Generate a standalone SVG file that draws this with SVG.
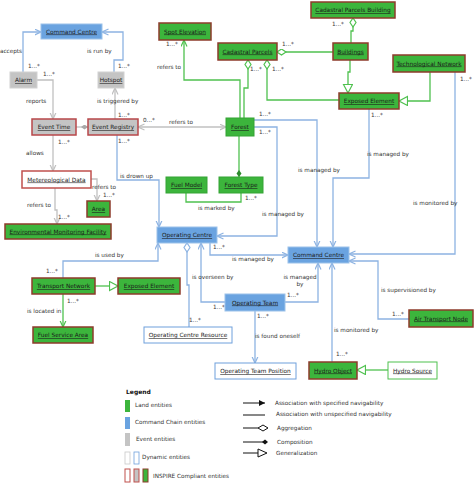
<svg xmlns="http://www.w3.org/2000/svg" width="474" height="484" viewBox="0 0 474 484">
<defs>
<style>
.t{font-family:"DejaVu Sans",sans-serif;font-size:5.8px;fill:#1a1a1a;text-anchor:middle;text-decoration:underline}
.l{font-family:"DejaVu Sans",sans-serif;font-size:5.7px;fill:#333}
.lg{font-family:"DejaVu Sans",sans-serif;font-size:5.7px;fill:#333}
.lgh{font-family:"DejaVu Sans",sans-serif;font-size:6px;font-weight:bold;fill:#111}
.land{fill:#3cb53c;stroke:#34a334;stroke-width:1}
.landI{fill:#3cb53c;stroke:#8d3b2b;stroke-width:1.5}
.cmd{fill:#6aa3e0;stroke:#9cc2ea;stroke-width:1}
.evt{fill:#c4c4c4;stroke:#d2d2d2;stroke-width:1}
.evtI{fill:#c4c4c4;stroke:#b8474a;stroke-width:1.5}
.dynI{fill:#fff;stroke:#c0504d;stroke-width:1.5}
.dynB{fill:#fff;stroke:#6fa0dc;stroke-width:1}
.dynG{fill:#fff;stroke:#4fc14f;stroke-width:1}
.b{fill:none;stroke:#8db3e2;stroke-width:1.3}
.g{fill:none;stroke:#c0c0c0;stroke-width:1.3}
.gr{fill:none;stroke:#4fc14f;stroke-width:1.3}
.k{fill:none;stroke:#111;stroke-width:1}
</style>
<marker id="ab" markerUnits="userSpaceOnUse" markerWidth="8" markerHeight="8" refX="6.5" refY="3.5" orient="auto"><path d="M0,0.5 L6.5,3.5 L0,6.5" fill="none" stroke="#8db3e2" stroke-width="1.2"/></marker>
<marker id="ag" markerUnits="userSpaceOnUse" markerWidth="8" markerHeight="8" refX="6.5" refY="3.5" orient="auto"><path d="M0,0.5 L6.5,3.5 L0,6.5" fill="none" stroke="#c0c0c0" stroke-width="1.2"/></marker>
<marker id="agS" markerUnits="userSpaceOnUse" markerWidth="8" markerHeight="8" refX="6.5" refY="3.5" orient="auto-start-reverse"><path d="M0,0.5 L6.5,3.5 L0,6.5" fill="none" stroke="#c0c0c0" stroke-width="1.2"/></marker>
<marker id="agr" markerUnits="userSpaceOnUse" markerWidth="8" markerHeight="8" refX="6.5" refY="3.5" orient="auto"><path d="M0,0.5 L6.5,3.5 L0,6.5" fill="none" stroke="#4fc14f" stroke-width="1.2"/></marker>
<marker id="tri" markerUnits="userSpaceOnUse" markerWidth="11" markerHeight="11" refX="9" refY="5" orient="auto"><path d="M0.5,0.5 L9,5 L0.5,9.5 Z" fill="#fff" stroke="#4fc14f" stroke-width="1.2"/></marker>
<marker id="dia" markerUnits="userSpaceOnUse" markerWidth="11" markerHeight="8" refX="0.5" refY="3.5" orient="auto"><path d="M0.5,3.5 L5,0.5 L9.5,3.5 L5,6.5 Z" fill="#fff" stroke="#4fc14f" stroke-width="1.2"/></marker>
<marker id="diaB" markerUnits="userSpaceOnUse" markerWidth="11" markerHeight="8" refX="0.5" refY="3.5" orient="auto"><path d="M0.5,3.5 L5,0.5 L9.5,3.5 L5,6.5 Z" fill="#fff" stroke="#8db3e2" stroke-width="1.2"/></marker>
<marker id="comp" markerUnits="userSpaceOnUse" markerWidth="9" markerHeight="7" refX="7" refY="2.5" orient="auto"><path d="M0,2.5 L3.5,0 L7,2.5 L3.5,5 Z" fill="#2e8b2e"/></marker>
<marker id="compG" markerUnits="userSpaceOnUse" markerWidth="9" markerHeight="7" refX="7" refY="2.5" orient="auto"><path d="M0,2.5 L3.5,0 L7,2.5 L3.5,5 Z" fill="#a8a8a8"/></marker>
<marker id="kArr" markerUnits="userSpaceOnUse" markerWidth="8" markerHeight="8" refX="6" refY="3" orient="auto"><path d="M0,0 L6,3 L0,6 Z" fill="#111"/></marker>
</defs>
<rect width="474" height="484" fill="#fff"/>

<g id="connectors">
<path class="b" d="M23,72 V32 H41" marker-end="url(#ab)"/>
<path class="b" d="M114,72 V60 H123 V32 H102" marker-end="url(#ab)"/>
<path class="b" d="M117,135 V180 H159 V227" marker-end="url(#ab)"/>
<path class="b" d="M254,120 H317 V247" marker-end="url(#ab)"/>
<path class="b" d="M254,127 H277 V236 H217" marker-end="url(#ab)"/>
<path class="b" d="M369,109 V178 H333 V247" marker-end="url(#ab)"/>
<path class="b" d="M455,72 V254 H349" marker-end="url(#ab)"/>
<path class="b" d="M63,278 V261 H158 V243" marker-end="url(#ab)"/>
<path class="b" d="M210,243 V255 H288" marker-end="url(#ab)"/>
<path class="b" d="M225,302 H201 V243" marker-end="url(#ab)"/>
<path class="b" d="M285,302 H318 V263" marker-end="url(#ab)"/>
<path class="b" d="M255,311 V363" marker-end="url(#ab)"/>
<path class="b" d="M409,319 H378 V261 H349" marker-end="url(#ab)"/>
<path class="b" d="M332,362 V263" marker-end="url(#ab)"/>
<path class="b" d="M187,243 V285 H189 V327" marker-start="url(#diaB)"/>
<path class="g" d="M37,80 H53 V119" marker-end="url(#ag)"/>
<path class="g" d="M115,119 V88" marker-end="url(#ag)"/>
<path class="g" d="M76,127 H88" marker-end="url(#compG)"/>
<path class="g" d="M53,135 V171" marker-end="url(#ag)"/>
<path class="g" d="M91,179 H97 V201" marker-end="url(#ag)"/>
<path class="g" d="M55,188 V210 H57 V224" marker-end="url(#ag)"/>
<path class="g" d="M138,127 H226" marker-start="url(#agS)" marker-end="url(#ag)"/>
<path class="gr" d="M240,118 V80 H184 V40" marker-end="url(#agr)"/>
<path class="gr" d="M248,60 V88 H244 V118" marker-start="url(#dia)"/>
<path class="gr" d="M267,60 V100 H339" marker-start="url(#dia)"/>
<path class="gr" d="M277,52 H333" marker-start="url(#dia)"/>
<path class="gr" d="M353,18 V31 H351 V43" marker-start="url(#dia)"/>
<path class="gr" d="M350,60 V72 H348 V93" marker-end="url(#tri)"/>
<path class="gr" d="M430,72 V101 H399" marker-end="url(#tri)"/>
<path class="gr" d="M239,136 V177" marker-end="url(#comp)"/>
<path class="gr" d="M186,193 V202 H241 V193"/>
<path class="gr" d="M95,286 H118" marker-end="url(#tri)"/>
<path class="gr" d="M63,294 V327" marker-end="url(#agr)"/>
<path class="gr" d="M388,370 H357" marker-end="url(#tri)"/>
</g>

<g id="connector-labels">
<text class="l" x="0" y="53">accepts</text>
<text class="l" x="28" y="68">1...*</text>
<text class="l" x="87" y="53">is run by</text>
<text class="l" x="118" y="68">1...*</text>
<text class="l" x="43" y="76">1...*</text>
<text class="l" x="26" y="103">reports</text>
<text class="l" x="97" y="103">is triggered by</text>
<text class="l" x="118" y="117">1...*</text>
<text class="l" x="143" y="122">0...*</text>
<text class="l" x="169" y="124">refers to</text>
<text class="l" x="58" y="144">1...*</text>
<text class="l" x="118" y="143">1...*</text>
<text class="l" x="26" y="155">allows</text>
<text class="l" x="120" y="178">is drown up</text>
<text class="l" x="92" y="189">refers to</text>
<text class="l" x="103" y="197">1...*</text>
<text class="l" x="27" y="207">refers to</text>
<text class="l" x="58" y="219">1...*</text>
<text class="l" x="157" y="69">refers to</text>
<text class="l" x="166" y="46">1...*</text>
<text class="l" x="250" y="71">1...*</text>
<text class="l" x="272" y="71">1...*</text>
<text class="l" x="282" y="46">1...*</text>
<text class="l" x="332" y="26">1...*</text>
<text class="l" x="460" y="81">1...*</text>
<text class="l" x="371" y="117">1...*</text>
<text class="l" x="367" y="156">is managed by</text>
<text class="l" x="259" y="116">1...*</text>
<text class="l" x="259" y="134">1...*</text>
<text class="l" x="298" y="172">is managed by</text>
<text class="l" x="262" y="216">is managed by</text>
<text class="l" x="198" y="210">is marked by</text>
<text class="l" x="245" y="200">1...*</text>
<text class="l" x="413" y="205">is monitored by</text>
<text class="l" x="95" y="257">is used by</text>
<text class="l" x="46" y="273">1...*</text>
<text class="l" x="67" y="303">1...*</text>
<text class="l" x="27" y="313">is located in</text>
<text class="l" x="213" y="249">1...*</text>
<text class="l" x="232" y="261">is managed by</text>
<text class="l" x="192" y="279">is overseen by</text>
<text class="l" x="300" y="279" text-anchor="middle">is managed</text>
<text class="l" x="300" y="286" text-anchor="middle">by</text>
<text class="l" x="287" y="297">1...*</text>
<text class="l" x="213" y="309">1...*</text>
<text class="l" x="189" y="322">1...*</text>
<text class="l" x="257" y="318">1...*</text>
<text class="l" x="255" y="338">is found oneself</text>
<text class="l" x="381" y="292">is supervisioned by</text>
<text class="l" x="392" y="316">1...*</text>
<text class="l" x="334" y="332">is monitored by</text>
<text class="l" x="336" y="356">1...*</text>
</g>

<g id="command-centre-top"><rect class="cmd" x="41" y="24" width="61" height="15"/><text class="t" x="71.5" y="33.5">Command Centre</text></g>
<g id="alarm"><rect class="evt" x="10" y="72" width="27" height="16"/><text class="t" x="23.5" y="82">Alarm</text></g>
<g id="hotspot"><rect class="evt" x="98" y="72" width="26" height="16"/><text class="t" x="111" y="82">Hotspot</text></g>
<g id="event-time"><rect class="evtI" x="32" y="119" width="44" height="16"/><text class="t" x="54" y="129">Event Time</text></g>
<g id="event-registry"><rect class="evtI" x="88" y="119" width="50" height="16"/><text class="t" x="113" y="129">Event Registry</text></g>
<g id="metereological-data"><rect class="dynI" x="22" y="171" width="69" height="17"/><text class="t" x="56.5" y="181.5">Metereological Data</text></g>
<g id="area"><rect class="landI" x="87" y="201" width="23" height="16"/><text class="t" x="98.5" y="211">Area</text></g>
<g id="environmental-monitoring-facility"><rect class="landI" x="5" y="224" width="106" height="15"/><text class="t" x="58" y="233.5">Environmental Monitoring Facility</text></g>
<g id="spot-elevation"><rect class="landI" x="159" y="23" width="52" height="17"/><text class="t" x="185" y="33.5">Spot Elevation</text></g>
<g id="cadastral-parcels"><rect class="landI" x="218" y="43" width="59" height="17"/><text class="t" x="247.5" y="53.5">Cadastral Parcels</text></g>
<g id="cadastral-parcels-building"><rect class="landI" x="311" y="2" width="84" height="16"/><text class="t" x="353" y="12">Cadastral Parcels Building</text></g>
<g id="buildings"><rect class="landI" x="333" y="43" width="35" height="17"/><text class="t" x="350.5" y="53.5">Buildings</text></g>
<g id="technological-network"><rect class="landI" x="393" y="55" width="72" height="17"/><text class="t" x="429" y="65.5">Technological Network</text></g>
<g id="exposed-element-top"><rect class="landI" x="339" y="93" width="60" height="16"/><text class="t" x="369" y="103">Exposed Element</text></g>
<g id="forest"><rect class="land" x="226" y="118" width="28" height="18"/><text class="t" x="240" y="129">Forest</text></g>
<g id="fuel-model"><rect class="land" x="166" y="177" width="41" height="16"/><text class="t" x="186.5" y="187">Fuel Model</text></g>
<g id="forest-type"><rect class="land" x="219" y="177" width="44" height="16"/><text class="t" x="241" y="187">Forest Type</text></g>
<g id="operating-centre"><rect class="cmd" x="157" y="227" width="60" height="16"/><text class="t" x="187" y="237">Operating Centre</text></g>
<g id="command-centre"><rect class="cmd" x="288" y="247" width="61" height="16"/><text class="t" x="318.5" y="257">Command Centre</text></g>
<g id="operating-team"><rect class="cmd" x="225" y="294" width="60" height="17"/><text class="t" x="255" y="304.5">Operating Team</text></g>
<g id="transport-network"><rect class="landI" x="32" y="278" width="63" height="16"/><text class="t" x="63.5" y="288">Transport Network</text></g>
<g id="exposed-element"><rect class="landI" x="118" y="278" width="62" height="16"/><text class="t" x="149" y="288">Exposed Element</text></g>
<g id="fuel-service-area"><rect class="landI" x="33" y="327" width="60" height="16"/><text class="t" x="63" y="337">Fuel Service Area</text></g>
<g id="operating-centre-resource"><rect class="dynB" x="144" y="327" width="88" height="16"/><text class="t" x="188" y="337">Operating Centre Resource</text></g>
<g id="operating-team-position"><rect class="dynB" x="215" y="363" width="81" height="16"/><text class="t" x="255.5" y="373">Operating Team Position</text></g>
<g id="air-transport-node"><rect class="landI" x="409" y="310" width="64" height="17"/><text class="t" x="441" y="320.5">Air Transport Node</text></g>
<g id="hydro-object"><rect class="landI" x="309" y="362" width="48" height="17"/><text class="t" x="333" y="372.5">Hydro Object</text></g>
<g id="hydro-source"><rect class="dynG" x="388" y="362" width="49" height="17"/><text class="t" x="412.5" y="372.5">Hydro Source</text></g>

<g id="legend">
<text class="lgh" x="126" y="394">Legend</text>
<rect x="125" y="400" width="5" height="12" fill="#3cb53c"/>
<text class="lg" x="135" y="407">Land entities</text>
<rect x="125" y="417" width="5" height="12" fill="#6aa3e0"/>
<text class="lg" x="135" y="424">Command Chain entities</text>
<rect x="125" y="433" width="5" height="13" fill="#c4c4c4"/>
<text class="lg" x="136" y="441">Event entities</text>
<rect x="125" y="452" width="5" height="12" fill="#fff" stroke="#c8c8c8" stroke-width="0.8"/>
<rect x="134" y="452" width="5" height="12" fill="#fff" stroke="#6fa0dc" stroke-width="0.8"/>
<text class="lg" x="142" y="459">Dynamic entities</text>
<rect x="125" y="469" width="5" height="13" fill="#fff" stroke="#c0504d" stroke-width="1"/>
<rect x="134" y="469" width="5" height="13" fill="#c4c4c4" stroke="#c0504d" stroke-width="1"/>
<rect x="143" y="469" width="5" height="13" fill="#3cb53c" stroke="#8d3b2b" stroke-width="1"/>
<text class="lg" x="153" y="478">INSPIRE Compliant entities</text>
<path class="k" d="M243,403 H265" marker-end="url(#kArr)"/>
<text class="lg" x="275" y="405">Association with specified navigability</text>
<path class="k" d="M243,415 H265"/>
<text class="lg" x="276" y="416">Association with unspecified navigability</text>
<path class="k" d="M243,428 H258"/>
<path d="M258,428 L263,425 L268,428 L263,431 Z" fill="#fff" stroke="#111" stroke-width="1"/>
<text class="lg" x="277" y="430">Aggregation</text>
<path class="k" d="M243,442 H265"/>
<path d="M262,442 L265,439.5 L268,442 L265,444.5 Z" fill="#111"/>
<text class="lg" x="277" y="444">Composition</text>
<path class="k" d="M243,453 H258"/>
<path d="M258,449 L267,453 L258,457 Z" fill="#fff" stroke="#111" stroke-width="1"/>
<text class="lg" x="276" y="455">Generalization</text>
</g>
</svg>
